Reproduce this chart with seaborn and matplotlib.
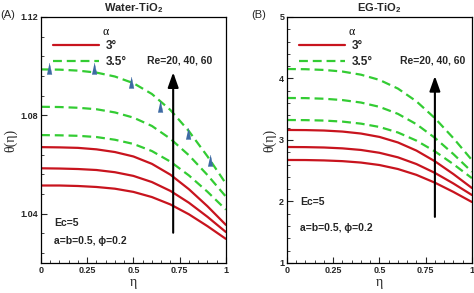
import numpy as np
import pandas as pd
import matplotlib
matplotlib.use("Agg")
import matplotlib.pyplot as plt
from matplotlib.lines import Line2D
from matplotlib.ticker import MultipleLocator
import seaborn as sns

# ---- data ----
eta = [0.0, 0.1, 0.2, 0.3, 0.4, 0.5, 0.6, 0.7, 0.8, 0.9, 1.0]

# panel A : Water-TiO2, Re = 20, 40, 60
water_red = {
    20: [1.0515, 1.0515, 1.0513, 1.0509, 1.0502, 1.0489, 1.0468, 1.0438, 1.0398, 1.0350, 1.0298],
    40: [1.0585, 1.0584, 1.0582, 1.0578, 1.0569, 1.0554, 1.0529, 1.0493, 1.0445, 1.0388, 1.0326],
    60: [1.0671, 1.0670, 1.0668, 1.0662, 1.0651, 1.0633, 1.0603, 1.0559, 1.0500, 1.0431, 1.0355],
}
water_green = {
    20: [1.0720, 1.0719, 1.0717, 1.0712, 1.0701, 1.0684, 1.0655, 1.0612, 1.0556, 1.0490, 1.0417],
    40: [1.0835, 1.0834, 1.0831, 1.0825, 1.0812, 1.0791, 1.0757, 1.0705, 1.0638, 1.0558, 1.0470],
    60: [1.0987, 1.0986, 1.0982, 1.0974, 1.0958, 1.0931, 1.0887, 1.0822, 1.0736, 1.0634, 1.0523],
}
tri_eta = [0.043, 0.287, 0.486, 0.643, 0.795, 0.914]
tri_theta = [1.0987, 1.0987, 1.0933, 1.0835, 1.0724, 1.0614]

# panel B : EG-TiO2
eg_red = {
    20: [2.675, 2.674, 2.668, 2.656, 2.633, 2.593, 2.528, 2.433, 2.306, 2.156, 1.992],
    40: [2.886, 2.884, 2.878, 2.864, 2.838, 2.792, 2.718, 2.609, 2.465, 2.293, 2.106],
    60: [3.163, 3.161, 3.154, 3.137, 3.105, 3.050, 2.960, 2.828, 2.654, 2.446, 2.220],
}
eg_green = {
    20: [3.325, 3.323, 3.316, 3.299, 3.266, 3.212, 3.122, 2.990, 2.815, 2.607, 2.380],
    40: [3.683, 3.681, 3.671, 3.649, 3.609, 3.539, 3.425, 3.257, 3.035, 2.771, 2.483],
    60: [4.154, 4.151, 4.139, 4.113, 4.062, 3.977, 3.836, 3.629, 3.355, 3.030, 2.675],
}

RED = "#c8141e"
GREEN = "#33cc33"
TRI = "#3d6aa3"
DASH = (0, (4, 2.2))

sns.set_style("ticks")
plt.rcParams["font.family"] = ["Liberation Sans", "DejaVu Sans"]
plt.rcParams["mathtext.fontset"] = "custom"
plt.rcParams["mathtext.rm"] = "Liberation Sans"
plt.rcParams["mathtext.bf"] = "Liberation Sans:bold"
plt.rcParams["axes.linewidth"] = 0.9

fig = plt.figure(figsize=(4.74, 2.93), dpi=100)
axA = fig.add_axes([0.0865, 0.1024, 0.390, 0.8396])
axB = fig.add_axes([0.6055, 0.1024, 0.390, 0.8396])


def long_df(red, green):
    rows = []
    for re, vals in red.items():
        rows += [dict(eta=e, theta=v, alpha="3°", Re=re) for e, v in zip(eta, vals)]
    for re, vals in green.items():
        rows += [dict(eta=e, theta=v, alpha="3.5°", Re=re) for e, v in zip(eta, vals)]
    return pd.DataFrame(rows)


def draw(ax, red, green, ylim, major, minor, arrow_x, arrow_y, yfmt):
    df = long_df(red, green)
    for (al, re), g in df.groupby(["alpha", "Re"]):
        col = RED if al == "3°" else GREEN
        ls = "-" if al == "3°" else DASH
        sns.lineplot(data=g, x="eta", y="theta", ax=ax, color=col,
                     linewidth=1.6, linestyle=ls, legend=False)
    ax.set_xlim(0, 1)
    ax.set_ylim(*ylim)
    ax.xaxis.set_major_locator(MultipleLocator(0.25))
    ax.xaxis.set_minor_locator(MultipleLocator(0.05))
    ax.yaxis.set_major_locator(MultipleLocator(major))
    ax.yaxis.set_minor_locator(MultipleLocator(minor))
    ax.xaxis.set_major_formatter(plt.FuncFormatter(lambda v, p: f"{v:g}"))
    ax.yaxis.set_major_formatter(plt.FuncFormatter(yfmt))
    ax.tick_params(which="both", direction="in", top=False, right=False,
                   labelsize=6.5, pad=2)
    ax.tick_params(which="major", length=4, width=0.8)
    ax.tick_params(which="minor", length=2, width=0.6)
    for lab in ax.get_xticklabels() + ax.get_yticklabels():
        lab.set_fontweight("bold")
    ax.set_xlabel("η", family="Liberation Serif", fontsize=10, labelpad=1)
    ax.set_ylabel("θ(η)", family="Liberation Serif", fontsize=10, labelpad=2)
    for s in ax.spines.values():
        s.set_visible(True)
        s.set_color("black")

    # Re arrow
    ax.annotate("", xy=(arrow_x, arrow_y[1]), xytext=(arrow_x, arrow_y[0]),
                arrowprops=dict(arrowstyle="-|>,head_length=0.9,head_width=0.32",
                                color="black", lw=1.5, shrinkA=0, shrinkB=0))

    # legend
    handles = [Line2D([], [], color=RED, lw=1.6),
               Line2D([], [], color=GREEN, lw=1.6, linestyle=DASH)]
    ax.legend(handles, ["3°", "3.5°"], loc="upper left",
              bbox_to_anchor=(0.04, 0.925), frameon=False,
              handlelength=3.9, handletextpad=0.55, labelspacing=0.3,
              borderaxespad=0, prop=dict(weight="bold", size=8.5))


draw(axA, water_red, water_green, (1.02, 1.12), 0.04, 0.008,
     0.715, (1.0323, 1.0975), lambda v, p: f"{v:.2f}")
sns.scatterplot(x=tri_eta, y=tri_theta, ax=axA, color=TRI, s=85,
                marker=[(-0.5, -1), (0.5, -1), (0, 1.3)], edgecolor=TRI,
                linewidth=0.3, zorder=5, legend=False)

draw(axB, eg_red, eg_green, (1, 5), 1, 0.2, 0.80, (1.75, 4.04),
     lambda v, p: f"{v:g}")

for ax, title, ax_x, ec_y, ab_y in [(axA, "Water-TiO$_\\mathbf{2}$", 0.75, 0.163, 0.089),
                                     (axB, "EG-TiO$_\\mathbf{2}$", 0.79, 0.248, 0.142)]:
    ax.set_title(title, fontsize=8, fontweight="bold", pad=4)
    ax.text(ax_x, 0.825, "Re=20, 40, 60", transform=ax.transAxes, ha="center",
            va="center", fontsize=7.5, fontweight="bold")
    ax.text(0.335, 0.94, "α", transform=ax.transAxes, ha="left", va="center",
            fontsize=8.5, family="Liberation Serif", color="black")
    ax.text(0.07, ec_y, "Ec=5", transform=ax.transAxes, ha="left", va="center",
            fontsize=7.5, fontweight="bold")
    ax.text(0.07, ab_y, "a=b=0.5, ϕ=0.2", transform=ax.transAxes, ha="left",
            va="center", fontsize=7.5, fontweight="bold")

fig.text(0.0, 0.948, "(A)", fontsize=8, ha="left", va="center")
fig.text(0.531, 0.948, "(B)", fontsize=8, ha="left", va="center")

fig.savefig("out.png", dpi=100)
